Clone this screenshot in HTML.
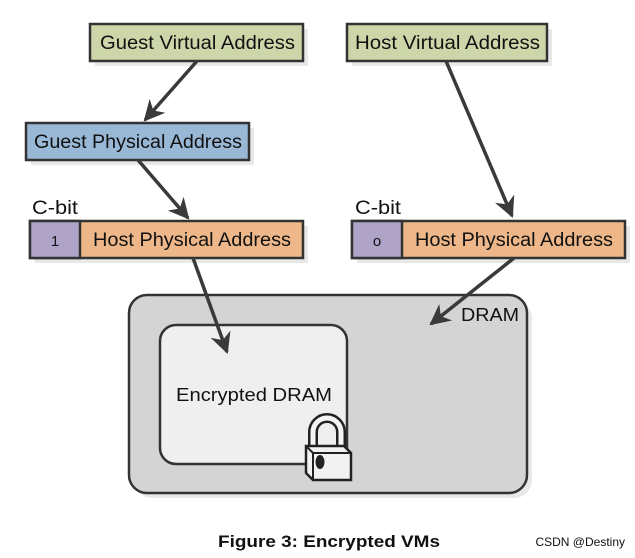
<!DOCTYPE html>
<html><head><meta charset="utf-8"><style>
html,body{margin:0;padding:0;background:#fff;}
svg{display:block;}
text{font-family:"Liberation Sans",sans-serif;fill:#111;}
</style></head><body>
<svg width="635" height="558" viewBox="0 0 635 558" xmlns="http://www.w3.org/2000/svg">
<defs>
<marker id="ah" viewBox="0 0 10 10" refX="9" refY="5" markerWidth="6" markerHeight="6" orient="auto" markerUnits="strokeWidth">
<path d="M0,0 L10,5 L0,10 L3,5 z" fill="#3a3a3a"/>
</marker>
</defs>
<g fill="#e8e8e8">
<rect x="95" y="29" width="213" height="37"/>
<rect x="352" y="29" width="200" height="37"/>
<rect x="31" y="128" width="223" height="37"/>
<rect x="35" y="226" width="273" height="37"/>
<rect x="357" y="226" width="273" height="37"/>
<rect x="134" y="300" width="398" height="198" rx="18"/>
</g>
<rect x="129" y="295" width="398" height="198" rx="18" fill="#d4d4d4" stroke="#333" stroke-width="2.5"/>
<text x="461" y="321" font-size="18" textLength="58" lengthAdjust="spacingAndGlyphs">DRAM</text>
<rect x="160" y="325" width="187" height="139" rx="16" fill="#efefef" stroke="#333" stroke-width="2.5"/>
<text x="176" y="401" font-size="18" textLength="156" lengthAdjust="spacingAndGlyphs">Encrypted DRAM</text>
<!-- lock -->
<path d="M313,450 L313,432 A14,14 0 0 1 341,432 L341,450" fill="none" stroke="#222" stroke-width="10"/>
<path d="M313,450 L313,432 A14,14 0 0 1 341,432 L341,450" fill="none" stroke="#f4f4f4" stroke-width="5"/>
<path d="M306,446 L344,446 L351,453 L351,480 L313,480 L306,473 z" fill="#f2f2f2" stroke="#222" stroke-width="2.5"/>
<path d="M306,446 L313,453 L351,453 M313,453 L313,480" fill="none" stroke="#222" stroke-width="2"/>
<ellipse cx="320" cy="462" rx="4.5" ry="7" fill="#222"/>
<!-- boxes -->
<rect x="90" y="24" width="213" height="37" fill="#ccd6a9" stroke="#333" stroke-width="2.5"/>
<text x="100" y="49" font-size="19" textLength="195" lengthAdjust="spacingAndGlyphs">Guest Virtual Address</text>
<rect x="347" y="24" width="200" height="37" fill="#ccd6a9" stroke="#333" stroke-width="2.5"/>
<text x="355" y="49" font-size="19" textLength="185" lengthAdjust="spacingAndGlyphs">Host Virtual Address</text>
<rect x="26" y="123" width="223" height="37" fill="#99b8d6" stroke="#333" stroke-width="2.5"/>
<text x="34" y="148" font-size="19" textLength="208" lengthAdjust="spacingAndGlyphs">Guest Physical Address</text>
<text x="32" y="214" font-size="19" textLength="46" lengthAdjust="spacingAndGlyphs">C-bit</text>
<rect x="30" y="221" width="273" height="37" fill="#edb789" stroke="#333" stroke-width="2.5"/>
<rect x="30" y="221" width="50" height="37" fill="#b0a3c8" stroke="#333" stroke-width="2.5"/>
<text x="55" y="246" font-size="15" text-anchor="middle" font-family="Liberation Mono">1</text>
<text x="93" y="246" font-size="19" textLength="198" lengthAdjust="spacingAndGlyphs">Host Physical Address</text>
<text x="355" y="214" font-size="19" textLength="46" lengthAdjust="spacingAndGlyphs">C-bit</text>
<rect x="352" y="221" width="273" height="37" fill="#edb789" stroke="#333" stroke-width="2.5"/>
<rect x="352" y="221" width="50" height="37" fill="#b0a3c8" stroke="#333" stroke-width="2.5"/>
<text x="377" y="246" font-size="15" text-anchor="middle" font-family="Liberation Mono">o</text>
<text x="415" y="246" font-size="19" textLength="198" lengthAdjust="spacingAndGlyphs">Host Physical Address</text>
<g stroke="#3a3a3a" stroke-width="3.5" fill="none" marker-end="url(#ah)">
<line x1="197" y1="61" x2="145" y2="120"/>
<line x1="138" y1="160" x2="188" y2="218"/>
<line x1="193" y1="258" x2="227" y2="352"/>
<line x1="446" y1="61" x2="512" y2="216"/>
<line x1="514" y1="258" x2="431" y2="324"/>
</g>
<text x="218" y="547" font-size="17" font-weight="bold" textLength="222" lengthAdjust="spacingAndGlyphs" fill="#444">Figure 3: Encrypted VMs</text>
<text x="625" y="546" font-size="12" text-anchor="end" fill="#666">CSDN @Destiny</text>
</svg>
</body></html>
